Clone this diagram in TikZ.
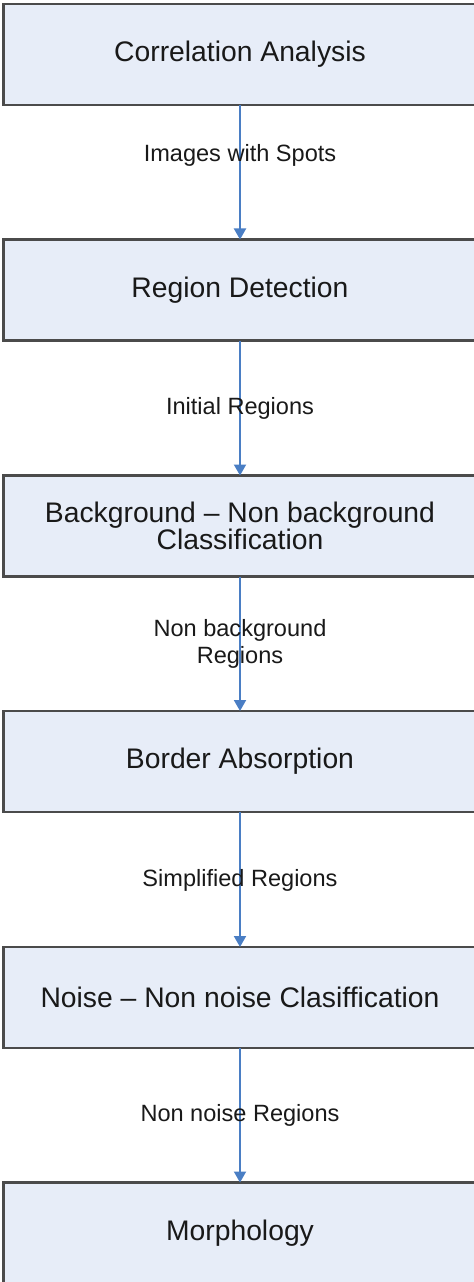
\documentclass[tikz,border=0pt]{standalone}
\usepackage{fontspec}
\setmainfont{Liberation Sans}
\usepackage{xcolor}
\usepackage{tikz}
\usetikzlibrary{arrows.meta, positioning}
\definecolor{boxfill}{RGB}{231, 237, 248}
\definecolor{boxline}{RGB}{75, 75, 75}
\definecolor{flowcolor}{RGB}{74, 126, 196}
\definecolor{textcolor}{RGB}{25, 25, 25}
\tikzstyle{stage} = [rectangle, minimum width=9.46cm, minimum height=2.02cm, text centered, align=center, draw=boxline, fill=boxfill, line width=1.5pt, inner sep=0pt, outer sep=0pt, text=textcolor, font=\fontsize{16.1}{15.3}\selectfont]
\tikzstyle{flowlabel} = [text=textcolor, align=center, inner sep=0pt, font=\fontsize{13.4}{15.4}\selectfont]
\tikzstyle{arrow} = [line width=1.1pt, draw=flowcolor, -{Triangle[width=0.24cm, length=0.22cm]}]

\begin{document}
\begin{tikzpicture}
\useasboundingbox (0,0) rectangle (9.48,-25.64);

% Stages
\node (corr) [stage] at (4.8,-1.09) {Correlation Analysis};
\node (region) [stage] at (4.8,-5.80) {Region Detection};
\node (bgclass) [stage] at (4.8,-10.52) {Background -- Non background\\Classification};
\node (border) [stage] at (4.8,-15.23) {Border Absorption};
\node (noiseclass) [stage] at (4.8,-19.95) {Noise -- Non noise Clasiffication};
\node (morph) [stage] at (4.8,-24.66) {Morphology};

% Arrows
\draw [arrow] (corr) -- (region);
\draw [arrow] (region) -- (bgclass);
\draw [arrow] (bgclass) -- (border);
\draw [arrow] (border) -- (noiseclass);
\draw [arrow] (noiseclass) -- (morph);

% Labels
\node (lblspots) [flowlabel] at (4.8,-3.10) {Images with Spots};
\node (lblinitial) [flowlabel] at (4.8,-8.16) {Initial Regions};
\node (lblnonbg) [flowlabel] at (4.8,-12.87) {Non background\\Regions};
\node (lblsimpl) [flowlabel] at (4.8,-17.60) {Simplified Regions};
\node (lblnonnoise) [flowlabel] at (4.8,-22.30) {Non noise Regions};

\end{tikzpicture}
\end{document}
